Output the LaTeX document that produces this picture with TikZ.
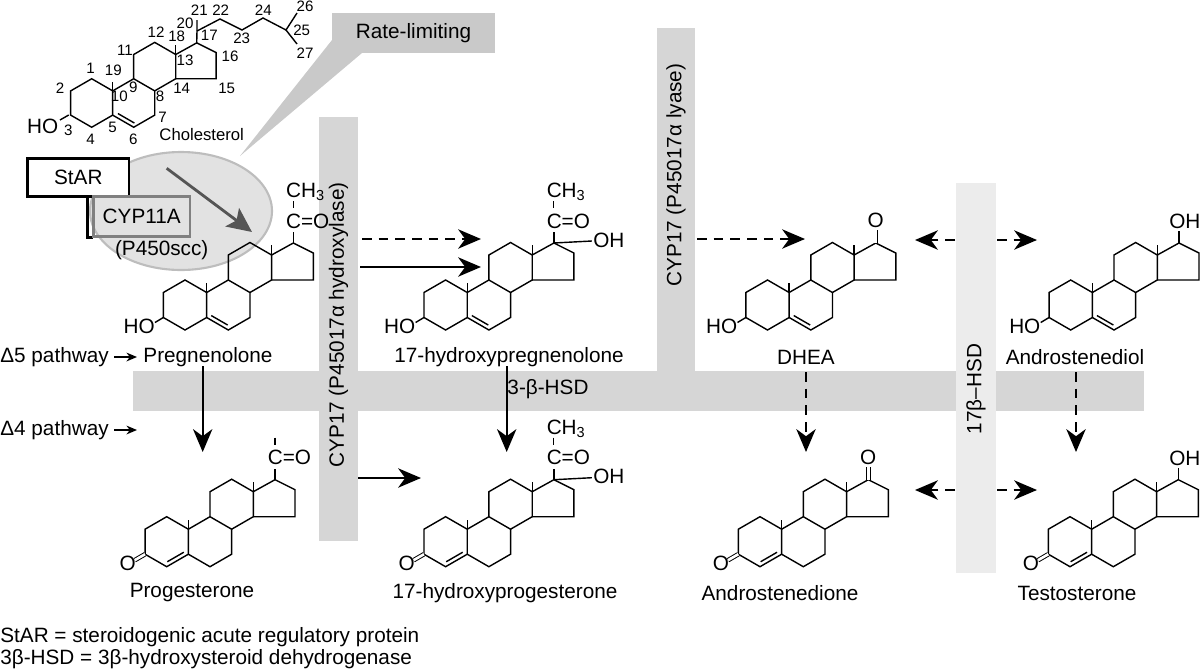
\documentclass[tikz,border=0pt]{standalone}
\usepackage{fontspec}
\setmainfont{Liberation Sans}
\usetikzlibrary{arrows.meta}
\definecolor{boxg}{HTML}{D6D6D6}
\definecolor{boxl}{HTML}{ECECEC}
\definecolor{callg}{HTML}{C9C9C9}
\definecolor{ellf}{HTML}{E2E2E2}
\definecolor{elld}{HTML}{BDBDBD}
\definecolor{arrg}{HTML}{555555}
\tikzset{
 bond/.style={line width=0.8pt, line join=miter},
 dbl/.style={line width=0.55pt, double, double distance=1.5pt},
 lbl/.style={font=\fontsize{11.8}{13}\selectfont, inner sep=0pt},
 num/.style={font=\fontsize{8.6}{10}\selectfont, inner sep=0pt},
 arr/.style={-{Stealth[length=13pt,width=11pt,inset=4pt]}, line width=1.2pt},
 darr/.style={arr, dash pattern=on 5.5pt off 4pt},
}
\newcommand{\ster}[3][1]{\begin{scope}[shift={(#2,#3)},scale=#1]
\draw[bond] (-21.65,-12.5)--(0,-25)--(21.65,-12.5)--(21.65,12.5)--(0,25)--(-21.65,12.5)--cycle;
\draw[bond] (21.65,-12.5)--(43.3,-25)--(64.95,-12.5)--(64.95,12.5)--(43.3,25)--(21.65,12.5);
\draw[bond] (43.3,-25)--(43.3,-50)--(64.95,-62.5)--(86.6,-50)--(86.6,-25)--(64.95,-12.5);
\draw[bond] (86.6,-50)--(108.3,-62)--(128.3,-52)--(128.3,-25)--(86.6,-25);
\draw[bond] (21.65,-12.5)--(21.65,-22);
\draw[bond] (86.6,-50)--(86.6,-60);
\end{scope}}
\newcommand{\dfive}[2]{\draw[bond,shift={(#1,#2)}] (26.25,10.54)--(42.7,20.04);}
\newcommand{\dfour}[2]{\draw[bond,shift={(#1,#2)}] (0.6,20.04)--(17.05,10.54);}
\newcommand{\hoC}[2]{\begin{scope}[shift={(#1,#2)}]\draw[bond] (-21.65,12.5)--(-30,17.5);
 \node[lbl,anchor=east] at (-30,21) {HO};\end{scope}}
\newcommand{\oC}[2]{\begin{scope}[shift={(#1,#2)}]\draw[dbl] (-21.65,12.5)--(-32,18.5);
 \node[lbl] at (-39,22) {O};\end{scope}}
\newcommand{\acetyl}[3]{\begin{scope}[shift={(#1,#2)}]\draw[bond] (0,0)--(0,-11);
 \node[lbl,anchor=west] at (-7.5,-22) {C=O};
 \draw[line width=0.6pt] (0,-42)--(0,-35);
 #3\end{scope}}
\newcommand{\methyl}{\node[lbl,anchor=west] at (-7.5,-51) {CH\textsubscript{3}};}
\begin{document}
\begin{tikzpicture}[x=0.02cm,y=-0.02cm]
\useasboundingbox (0,0) rectangle (1200,670);
% enzyme bars
\fill[boxg] (133,371) rectangle (1144,411);
\fill[boxg] (319,117) rectangle (358,541);
\fill[boxg] (657,28) rectangle (695,372);
\fill[boxl] (956,183) rectangle (996,573);
\node[lbl,rotate=90] (hyd) at (338.5,325) {CYP17 (P45017α hydroxylase)};
\node[lbl,rotate=90] (lya) at (676,175) {CYP17 (P45017α lyase)};
\node[lbl] (hsd) at (548,389) {3-β-HSD};
\node[lbl,rotate=90] (hsdb) at (976,389) {17β–HSD};
% callout
\fill[callg] (332,40) -- (362,53) -- (240,156) -- cycle;
\fill[callg] (332,13) rectangle (495,53);
\node[lbl] (rl) at (413.5,33) {Rate-limiting};
% ellipse
\draw[fill=ellf, draw=elld, line width=1.2pt] (181,211) ellipse [x radius=91, y radius=59];
\draw[line width=1.4pt] (87.7,196.7) -- (87.7,237.3) -- (93.3,237.3);
\draw[line width=1.4pt, fill=white] (27.7,158.3) rectangle (129,196.7);
\node[lbl] (star) at (78.3,177.5) {StAR};
\draw[line width=1.4pt, draw=gray] (93.3,196.7) rectangle (190,236.7);
\node[lbl] (cyp) at (141.7,216.7) {CYP11A};
\node[lbl] (scc) at (161.7,250) {(P450scc)};
\draw[arrg, line width=1.6pt, -{Stealth[length=14pt,width=13pt,inset=3pt]}] (166.7,168.3) -- (252,232);
% cholesterol
\ster[0.97]{91.7}{103}
\dfive{91.7}{103}
\draw[bond] (68.7,115) -- (60,120);
\node[lbl] at (42.7,126.7) {HO};
\draw[bond] (196.7,42.9) -- (197,31) -- (197,20);
\draw[bond] (197,31) -- (220,19) -- (242,30) -- (263,18) -- (286,30) -- (297,13);
\draw[bond] (286,30) -- (297,44);
\foreach \t/\x/\y in {1/90.7/68.3, 2/60/88.3, 3/68.3/130, 4/90.7/139.3, 5/112.7/127.7, 6/133.3/139.3, 7/162.7/117.3, 8/160/96.7, 9/133.3/87.3, 10/119.3/96.7, 11/125/50, 12/156/32.7, 13/185/60, 14/181.7/88.3, 15/226.7/88.3, 16/230/56.7, 17/209.3/35, 18/176.7/36.7, 19/113.3/70, 20/185/23.3, 21/199.3/10, 22/220.7/10, 23/241.7/38.3, 24/263.3/10, 25/301.7/30, 26/305/6, 27/305/53.3}
 \node[num] at (\x,\y) {\t};
\node[num,font=\fontsize{9.5}{11}\selectfont] (chol) at (201.7,135) {Cholesterol};
% top row
\ster{185}{305}\dfive{185}{305}\hoC{185}{305}
\acetyl{293.3}{243}{\methyl}
\ster{445.6}{305}\dfive{445.6}{305}\hoC{445.6}{305}
\acetyl{553.9}{243}{\methyl
 \draw[bond] (0,0)--(38,-2); \node[lbl,anchor=west] at (39,-3) {OH};}
\ster{767.5}{305}\dfive{767.5}{305}\hoC{767.5}{305}
\draw[dbl] (875.8,243)--(875.8,230); \node[lbl] at (875.8,220) {O};
\ster{1070.7}{305}\dfive{1070.7}{305}\hoC{1070.7}{305}
\draw[bond] (1179,243)--(1179,231); \node[lbl,anchor=west] at (1169,221) {OH};
% bottom row
\ster{166.7}{541.7}\dfour{166.7}{541.7}\oC{166.7}{541.7}
\acetyl{275}{479.7}{}
\ster{445.6}{541.7}\dfour{445.6}{541.7}\oC{445.6}{541.7}
\acetyl{553.9}{479.7}{\methyl
 \draw[bond] (0,0)--(38,-2); \node[lbl,anchor=west] at (39,-3) {OH};}
\ster{760}{541.7}\dfour{760}{541.7}\oC{760}{541.7}
\draw[dbl] (868.3,479.7)--(868.3,467); \node[lbl] at (868.3,457) {O};
\ster{1070}{541.7}\dfour{1070}{541.7}\oC{1070}{541.7}
\draw[bond] (1178.3,479.7)--(1178.3,468); \node[lbl,anchor=west] at (1169,458) {OH};
% names
\node[lbl] (preg) at (208,357) {Pregnenolone};
\node[lbl] (ohpreg) at (509,357) {17-hydroxypregnenolone};
\node[lbl] (dhea) at (806,357) {DHEA};
\node[lbl] (adiol) at (1075,357) {Androstenediol};
\node[lbl] (prog) at (192,593) {Progesterone};
\node[lbl] (ohprog) at (505,593) {17-hydroxyprogesterone};
\node[lbl] (adione) at (780,593) {Androstenedione};
\node[lbl] (testo) at (1077,593) {Testosterone};
\node[lbl,anchor=west] (d5) at (0,357) {Δ5 pathway};
\node[lbl,anchor=west] (d4) at (0,430) {Δ4 pathway};
\draw[line width=0.9pt,-{Stealth[length=6pt,width=5pt]}] (d5.east)+(5,0) -- (137,357);
\draw[line width=0.9pt,-{Stealth[length=6pt,width=5pt]}] (d4.east)+(5,0) -- (137,430);
% arrows
\draw[darr] (362,239) -- (481,239);
\draw[arr] (360,267) -- (481,267);
\draw[arr] (358,478) -- (421,478);
\draw[darr] (697,239) -- (805,239);
\draw[darr] (955,240) -- (915,240);
\draw[darr] (997,240) -- (1037,240);
\draw[darr] (955,490) -- (915,490);
\draw[darr] (997,490) -- (1037,490);
\draw[arr] (202.7,366) -- (202.7,452);
\draw[arr] (506.7,366) -- (506.7,452);
\draw[darr] (806,372) -- (806,452);
\draw[darr] (1076,372) -- (1076,452);
% footnotes
\node[lbl,anchor=west] (f1) at (0,637) {StAR = steroidogenic acute regulatory protein};
\node[lbl,anchor=west] (f2) at (0,659) {3β-HSD = 3β-hydroxysteroid dehydrogenase};
\end{tikzpicture}
\end{document}
